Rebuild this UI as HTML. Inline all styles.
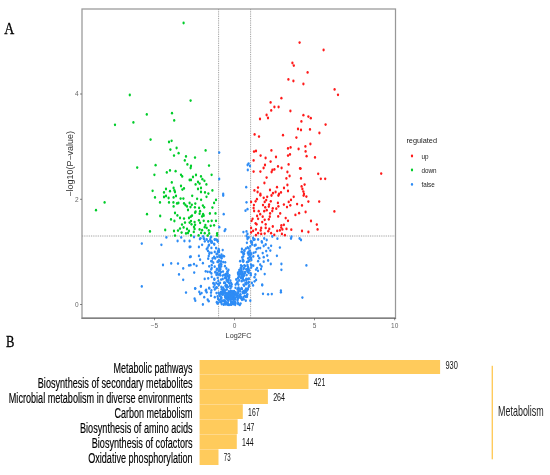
<!DOCTYPE html>
<html><head><meta charset="utf-8"><title>Figure</title>
<style>
html,body{margin:0;padding:0;background:#fff;}
svg{display:block;font-family:"Liberation Sans",sans-serif;}
.ser{font-family:"Liberation Serif",serif;}
</style></head><body>
<svg width="550" height="475" viewBox="0 0 550 475">
<rect width="550" height="475" fill="#fff"/>
<text class="ser" x="4.2" y="34.3" font-size="17.5" textLength="10" lengthAdjust="spacingAndGlyphs" fill="#000" stroke="#000" stroke-width="0.3">A</text>
<text class="ser" x="6" y="347.4" font-size="17.5" textLength="8.4" lengthAdjust="spacingAndGlyphs" fill="#000" stroke="#000" stroke-width="0.3">B</text>
<g stroke="#777" stroke-width="0.75" stroke-dasharray="0.9 0.9" fill="none">
<line x1="218.6" y1="9" x2="218.6" y2="318"/><line x1="250.6" y1="9" x2="250.6" y2="318"/><line x1="82" y1="236" x2="395.5" y2="236"/>
</g>
<g fill="#2e8cf5"><ellipse cx="219.2" cy="152.6" rx="1.15" ry="1.4"/><ellipse cx="219.2" cy="179.0" rx="1.15" ry="1.4"/><ellipse cx="223.2" cy="194.0" rx="1.15" ry="1.4"/><ellipse cx="248.6" cy="163.6" rx="1.15" ry="1.4"/><ellipse cx="247.6" cy="165.0" rx="1.15" ry="1.4"/><ellipse cx="250.0" cy="166.0" rx="1.15" ry="1.4"/><ellipse cx="247.8" cy="170.0" rx="1.15" ry="1.4"/><ellipse cx="246.2" cy="187.2" rx="1.15" ry="1.4"/><ellipse cx="166.4" cy="237.4" rx="1.15" ry="1.4"/><ellipse cx="181.2" cy="237.4" rx="1.15" ry="1.4"/><ellipse cx="177.6" cy="241.0" rx="1.15" ry="1.4"/><ellipse cx="184.4" cy="241.0" rx="1.15" ry="1.4"/><ellipse cx="189.6" cy="241.0" rx="1.15" ry="1.4"/><ellipse cx="141.8" cy="243.6" rx="1.15" ry="1.4"/><ellipse cx="161.4" cy="244.8" rx="1.15" ry="1.4"/><ellipse cx="189.6" cy="247.0" rx="1.15" ry="1.4"/><ellipse cx="190.0" cy="257.0" rx="1.15" ry="1.4"/><ellipse cx="163.0" cy="265.0" rx="1.15" ry="1.4"/><ellipse cx="171.2" cy="263.4" rx="1.15" ry="1.4"/><ellipse cx="178.0" cy="263.6" rx="1.15" ry="1.4"/><ellipse cx="189.0" cy="265.4" rx="1.15" ry="1.4"/><ellipse cx="183.2" cy="268.4" rx="1.15" ry="1.4"/><ellipse cx="179.0" cy="274.4" rx="1.15" ry="1.4"/><ellipse cx="183.2" cy="279.8" rx="1.15" ry="1.4"/><ellipse cx="141.8" cy="286.4" rx="1.15" ry="1.4"/><ellipse cx="223.2" cy="195.5" rx="1.15" ry="1.4"/><ellipse cx="223.7" cy="214.2" rx="1.15" ry="1.4"/><ellipse cx="219.3" cy="227.2" rx="1.15" ry="1.4"/><ellipse cx="225.4" cy="229.4" rx="1.15" ry="1.4"/><ellipse cx="224.6" cy="230.9" rx="1.15" ry="1.4"/><ellipse cx="243.4" cy="232.1" rx="1.15" ry="1.4"/><ellipse cx="194.0" cy="237.0" rx="1.15" ry="1.4"/><ellipse cx="203.1" cy="236.3" rx="1.15" ry="1.4"/><ellipse cx="211.2" cy="237.0" rx="1.15" ry="1.4"/><ellipse cx="199.9" cy="239.0" rx="1.15" ry="1.4"/><ellipse cx="203.7" cy="238.5" rx="1.15" ry="1.4"/><ellipse cx="206.7" cy="239.5" rx="1.15" ry="1.4"/><ellipse cx="210.2" cy="239.5" rx="1.15" ry="1.4"/><ellipse cx="214.8" cy="239.5" rx="1.15" ry="1.4"/><ellipse cx="217.8" cy="241.5" rx="1.15" ry="1.4"/><ellipse cx="211.7" cy="241.5" rx="1.15" ry="1.4"/><ellipse cx="208.2" cy="241.5" rx="1.15" ry="1.4"/><ellipse cx="246.5" cy="202.3" rx="1.15" ry="1.4"/><ellipse cx="247.5" cy="209.2" rx="1.15" ry="1.4"/><ellipse cx="245.5" cy="210.7" rx="1.15" ry="1.4"/><ellipse cx="246.5" cy="231.4" rx="1.15" ry="1.4"/><ellipse cx="247.5" cy="233.9" rx="1.15" ry="1.4"/><ellipse cx="246.5" cy="236.0" rx="1.15" ry="1.4"/><ellipse cx="272.3" cy="236.5" rx="1.15" ry="1.4"/><ellipse cx="291.5" cy="236.7" rx="1.15" ry="1.4"/><ellipse cx="291.0" cy="238.5" rx="1.15" ry="1.4"/><ellipse cx="277.4" cy="238.7" rx="1.15" ry="1.4"/><ellipse cx="247.5" cy="239.0" rx="1.15" ry="1.4"/><ellipse cx="253.1" cy="238.0" rx="1.15" ry="1.4"/><ellipse cx="254.6" cy="239.5" rx="1.15" ry="1.4"/><ellipse cx="258.1" cy="239.5" rx="1.15" ry="1.4"/><ellipse cx="264.2" cy="238.5" rx="1.15" ry="1.4"/><ellipse cx="266.7" cy="240.0" rx="1.15" ry="1.4"/><ellipse cx="261.7" cy="241.5" rx="1.15" ry="1.4"/><ellipse cx="251.1" cy="242.0" rx="1.15" ry="1.4"/><ellipse cx="299.6" cy="238.5" rx="1.15" ry="1.4"/><ellipse cx="190.5" cy="246.8" rx="1.15" ry="1.4"/><ellipse cx="198.9" cy="247.0" rx="1.15" ry="1.4"/><ellipse cx="202.1" cy="244.8" rx="1.15" ry="1.4"/><ellipse cx="208.7" cy="245.5" rx="1.15" ry="1.4"/><ellipse cx="214.3" cy="244.5" rx="1.15" ry="1.4"/><ellipse cx="206.7" cy="249.1" rx="1.15" ry="1.4"/><ellipse cx="190.8" cy="256.7" rx="1.15" ry="1.4"/><ellipse cx="198.9" cy="255.9" rx="1.15" ry="1.4"/><ellipse cx="200.1" cy="259.7" rx="1.15" ry="1.4"/><ellipse cx="209.7" cy="252.6" rx="1.15" ry="1.4"/><ellipse cx="208.7" cy="256.1" rx="1.15" ry="1.4"/><ellipse cx="208.2" cy="258.7" rx="1.15" ry="1.4"/><ellipse cx="194.0" cy="264.2" rx="1.15" ry="1.4"/><ellipse cx="196.6" cy="265.8" rx="1.15" ry="1.4"/><ellipse cx="202.9" cy="263.2" rx="1.15" ry="1.4"/><ellipse cx="190.5" cy="265.2" rx="1.15" ry="1.4"/><ellipse cx="194.2" cy="272.6" rx="1.15" ry="1.4"/><ellipse cx="205.7" cy="271.3" rx="1.15" ry="1.4"/><ellipse cx="207.7" cy="271.8" rx="1.15" ry="1.4"/><ellipse cx="209.2" cy="266.3" rx="1.15" ry="1.4"/><ellipse cx="211.2" cy="269.3" rx="1.15" ry="1.4"/><ellipse cx="211.7" cy="265.2" rx="1.15" ry="1.4"/><ellipse cx="211.2" cy="261.2" rx="1.15" ry="1.4"/><ellipse cx="204.7" cy="278.9" rx="1.15" ry="1.4"/><ellipse cx="208.2" cy="278.4" rx="1.15" ry="1.4"/><ellipse cx="211.7" cy="276.9" rx="1.15" ry="1.4"/><ellipse cx="214.3" cy="278.9" rx="1.15" ry="1.4"/><ellipse cx="213.5" cy="283.4" rx="1.15" ry="1.4"/><ellipse cx="200.9" cy="286.5" rx="1.15" ry="1.4"/><ellipse cx="195.1" cy="288.5" rx="1.15" ry="1.4"/><ellipse cx="209.2" cy="288.0" rx="1.15" ry="1.4"/><ellipse cx="206.2" cy="290.0" rx="1.15" ry="1.4"/><ellipse cx="216.3" cy="287.5" rx="1.15" ry="1.4"/><ellipse cx="279.9" cy="247.6" rx="1.15" ry="1.4"/><ellipse cx="271.1" cy="245.8" rx="1.15" ry="1.4"/><ellipse cx="268.5" cy="248.1" rx="1.15" ry="1.4"/><ellipse cx="270.3" cy="250.6" rx="1.15" ry="1.4"/><ellipse cx="266.2" cy="251.1" rx="1.15" ry="1.4"/><ellipse cx="262.7" cy="253.1" rx="1.15" ry="1.4"/><ellipse cx="267.2" cy="255.6" rx="1.15" ry="1.4"/><ellipse cx="276.9" cy="255.8" rx="1.15" ry="1.4"/><ellipse cx="263.7" cy="257.2" rx="1.15" ry="1.4"/><ellipse cx="258.1" cy="255.9" rx="1.15" ry="1.4"/><ellipse cx="268.1" cy="260.5" rx="1.15" ry="1.4"/><ellipse cx="263.7" cy="261.7" rx="1.15" ry="1.4"/><ellipse cx="270.8" cy="264.0" rx="1.15" ry="1.4"/><ellipse cx="281.4" cy="264.0" rx="1.15" ry="1.4"/><ellipse cx="281.4" cy="269.8" rx="1.15" ry="1.4"/><ellipse cx="261.0" cy="269.1" rx="1.15" ry="1.4"/><ellipse cx="257.1" cy="268.1" rx="1.15" ry="1.4"/><ellipse cx="264.7" cy="274.1" rx="1.15" ry="1.4"/><ellipse cx="255.4" cy="274.5" rx="1.15" ry="1.4"/><ellipse cx="256.1" cy="279.9" rx="1.15" ry="1.4"/><ellipse cx="262.2" cy="285.0" rx="1.15" ry="1.4"/><ellipse cx="247.8" cy="289.0" rx="1.15" ry="1.4"/><ellipse cx="280.9" cy="290.7" rx="1.15" ry="1.4"/><ellipse cx="260.2" cy="264.7" rx="1.15" ry="1.4"/><ellipse cx="258.1" cy="261.2" rx="1.15" ry="1.4"/><ellipse cx="255.6" cy="252.1" rx="1.15" ry="1.4"/><ellipse cx="256.6" cy="249.1" rx="1.15" ry="1.4"/><ellipse cx="260.2" cy="248.1" rx="1.15" ry="1.4"/><ellipse cx="263.7" cy="246.0" rx="1.15" ry="1.4"/><ellipse cx="265.7" cy="244.5" rx="1.15" ry="1.4"/><ellipse cx="252.1" cy="244.5" rx="1.15" ry="1.4"/><ellipse cx="254.6" cy="245.5" rx="1.15" ry="1.4"/><ellipse cx="213.5" cy="283.2" rx="1.15" ry="1.4"/><ellipse cx="200.9" cy="286.1" rx="1.15" ry="1.4"/><ellipse cx="195.3" cy="288.6" rx="1.15" ry="1.4"/><ellipse cx="209.2" cy="288.3" rx="1.15" ry="1.4"/><ellipse cx="199.3" cy="291.9" rx="1.15" ry="1.4"/><ellipse cx="201.6" cy="293.1" rx="1.15" ry="1.4"/><ellipse cx="200.1" cy="294.1" rx="1.15" ry="1.4"/><ellipse cx="205.7" cy="290.6" rx="1.15" ry="1.4"/><ellipse cx="206.7" cy="292.3" rx="1.15" ry="1.4"/><ellipse cx="211.0" cy="292.6" rx="1.15" ry="1.4"/><ellipse cx="211.0" cy="295.7" rx="1.15" ry="1.4"/><ellipse cx="204.2" cy="297.2" rx="1.15" ry="1.4"/><ellipse cx="194.6" cy="298.7" rx="1.15" ry="1.4"/><ellipse cx="195.3" cy="300.7" rx="1.15" ry="1.4"/><ellipse cx="207.7" cy="299.7" rx="1.15" ry="1.4"/><ellipse cx="208.7" cy="301.2" rx="1.15" ry="1.4"/><ellipse cx="214.8" cy="297.2" rx="1.15" ry="1.4"/><ellipse cx="202.9" cy="304.5" rx="1.15" ry="1.4"/><ellipse cx="216.3" cy="288.1" rx="1.15" ry="1.4"/><ellipse cx="216.5" cy="293.1" rx="1.15" ry="1.4"/><ellipse cx="216.8" cy="302.2" rx="1.15" ry="1.4"/><ellipse cx="262.2" cy="285.0" rx="1.15" ry="1.4"/><ellipse cx="263.0" cy="293.8" rx="1.15" ry="1.4"/><ellipse cx="268.1" cy="294.3" rx="1.15" ry="1.4"/><ellipse cx="271.8" cy="294.1" rx="1.15" ry="1.4"/><ellipse cx="280.9" cy="292.3" rx="1.15" ry="1.4"/><ellipse cx="247.8" cy="288.9" rx="1.15" ry="1.4"/><ellipse cx="247.0" cy="296.7" rx="1.15" ry="1.4"/><ellipse cx="250.3" cy="300.7" rx="1.15" ry="1.4"/><ellipse cx="245.8" cy="300.7" rx="1.15" ry="1.4"/><ellipse cx="254.6" cy="281.3" rx="1.15" ry="1.4"/><ellipse cx="246.5" cy="282.5" rx="1.15" ry="1.4"/><ellipse cx="245.5" cy="291.1" rx="1.15" ry="1.4"/><ellipse cx="245.5" cy="284.0" rx="1.15" ry="1.4"/><ellipse cx="301.0" cy="240.0" rx="1.15" ry="1.4"/><ellipse cx="306.4" cy="265.4" rx="1.15" ry="1.4"/><ellipse cx="186.0" cy="292.6" rx="1.15" ry="1.4"/><ellipse cx="302.4" cy="297.6" rx="1.15" ry="1.4"/><ellipse cx="239.9" cy="295.5" rx="1.15" ry="1.4"/><ellipse cx="243.5" cy="292.0" rx="1.15" ry="1.4"/><ellipse cx="229.3" cy="298.5" rx="1.15" ry="1.4"/><ellipse cx="233.7" cy="298.1" rx="1.15" ry="1.4"/><ellipse cx="228.9" cy="291.5" rx="1.15" ry="1.4"/><ellipse cx="233.7" cy="292.3" rx="1.15" ry="1.4"/><ellipse cx="233.8" cy="296.9" rx="1.15" ry="1.4"/><ellipse cx="227.8" cy="294.1" rx="1.15" ry="1.4"/><ellipse cx="242.0" cy="299.8" rx="1.15" ry="1.4"/><ellipse cx="227.8" cy="296.6" rx="1.15" ry="1.4"/><ellipse cx="237.4" cy="295.1" rx="1.15" ry="1.4"/><ellipse cx="238.2" cy="293.0" rx="1.15" ry="1.4"/><ellipse cx="235.1" cy="302.4" rx="1.15" ry="1.4"/><ellipse cx="220.3" cy="293.5" rx="1.15" ry="1.4"/><ellipse cx="225.3" cy="296.2" rx="1.15" ry="1.4"/><ellipse cx="234.2" cy="298.7" rx="1.15" ry="1.4"/><ellipse cx="233.4" cy="293.9" rx="1.15" ry="1.4"/><ellipse cx="224.1" cy="300.5" rx="1.15" ry="1.4"/><ellipse cx="234.6" cy="299.2" rx="1.15" ry="1.4"/><ellipse cx="226.6" cy="297.3" rx="1.15" ry="1.4"/><ellipse cx="221.8" cy="294.4" rx="1.15" ry="1.4"/><ellipse cx="225.4" cy="303.3" rx="1.15" ry="1.4"/><ellipse cx="225.0" cy="301.2" rx="1.15" ry="1.4"/><ellipse cx="231.9" cy="296.9" rx="1.15" ry="1.4"/><ellipse cx="226.2" cy="297.8" rx="1.15" ry="1.4"/><ellipse cx="224.3" cy="291.5" rx="1.15" ry="1.4"/><ellipse cx="218.0" cy="299.0" rx="1.15" ry="1.4"/><ellipse cx="225.0" cy="303.3" rx="1.15" ry="1.4"/><ellipse cx="243.8" cy="299.3" rx="1.15" ry="1.4"/><ellipse cx="233.6" cy="304.2" rx="1.15" ry="1.4"/><ellipse cx="229.8" cy="297.6" rx="1.15" ry="1.4"/><ellipse cx="228.2" cy="300.8" rx="1.15" ry="1.4"/><ellipse cx="231.3" cy="295.0" rx="1.15" ry="1.4"/><ellipse cx="230.8" cy="296.4" rx="1.15" ry="1.4"/><ellipse cx="229.8" cy="297.5" rx="1.15" ry="1.4"/><ellipse cx="234.6" cy="293.4" rx="1.15" ry="1.4"/><ellipse cx="232.5" cy="301.8" rx="1.15" ry="1.4"/><ellipse cx="232.3" cy="292.8" rx="1.15" ry="1.4"/><ellipse cx="238.1" cy="303.2" rx="1.15" ry="1.4"/><ellipse cx="220.8" cy="292.1" rx="1.15" ry="1.4"/><ellipse cx="233.1" cy="303.4" rx="1.15" ry="1.4"/><ellipse cx="234.6" cy="302.5" rx="1.15" ry="1.4"/><ellipse cx="226.1" cy="296.8" rx="1.15" ry="1.4"/><ellipse cx="232.9" cy="293.5" rx="1.15" ry="1.4"/><ellipse cx="238.1" cy="297.8" rx="1.15" ry="1.4"/><ellipse cx="231.1" cy="299.2" rx="1.15" ry="1.4"/><ellipse cx="232.5" cy="296.9" rx="1.15" ry="1.4"/><ellipse cx="222.1" cy="300.7" rx="1.15" ry="1.4"/><ellipse cx="221.3" cy="298.2" rx="1.15" ry="1.4"/><ellipse cx="222.6" cy="291.8" rx="1.15" ry="1.4"/><ellipse cx="232.8" cy="303.6" rx="1.15" ry="1.4"/><ellipse cx="228.3" cy="296.5" rx="1.15" ry="1.4"/><ellipse cx="233.5" cy="299.9" rx="1.15" ry="1.4"/><ellipse cx="238.2" cy="291.9" rx="1.15" ry="1.4"/><ellipse cx="234.8" cy="293.3" rx="1.15" ry="1.4"/><ellipse cx="232.1" cy="295.8" rx="1.15" ry="1.4"/><ellipse cx="232.2" cy="293.1" rx="1.15" ry="1.4"/><ellipse cx="230.8" cy="292.4" rx="1.15" ry="1.4"/><ellipse cx="231.3" cy="303.2" rx="1.15" ry="1.4"/><ellipse cx="235.1" cy="299.6" rx="1.15" ry="1.4"/><ellipse cx="237.6" cy="295.9" rx="1.15" ry="1.4"/><ellipse cx="244.8" cy="296.1" rx="1.15" ry="1.4"/><ellipse cx="239.8" cy="304.9" rx="1.15" ry="1.4"/><ellipse cx="227.7" cy="297.5" rx="1.15" ry="1.4"/><ellipse cx="232.6" cy="292.4" rx="1.15" ry="1.4"/><ellipse cx="230.3" cy="295.8" rx="1.15" ry="1.4"/><ellipse cx="243.5" cy="291.3" rx="1.15" ry="1.4"/><ellipse cx="228.6" cy="293.1" rx="1.15" ry="1.4"/><ellipse cx="242.2" cy="298.6" rx="1.15" ry="1.4"/><ellipse cx="230.9" cy="304.7" rx="1.15" ry="1.4"/><ellipse cx="227.8" cy="303.1" rx="1.15" ry="1.4"/><ellipse cx="225.0" cy="296.1" rx="1.15" ry="1.4"/><ellipse cx="233.8" cy="293.3" rx="1.15" ry="1.4"/><ellipse cx="220.1" cy="301.9" rx="1.15" ry="1.4"/><ellipse cx="234.8" cy="295.6" rx="1.15" ry="1.4"/><ellipse cx="235.3" cy="302.9" rx="1.15" ry="1.4"/><ellipse cx="223.3" cy="294.2" rx="1.15" ry="1.4"/><ellipse cx="231.3" cy="291.4" rx="1.15" ry="1.4"/><ellipse cx="230.9" cy="291.4" rx="1.15" ry="1.4"/><ellipse cx="237.5" cy="300.7" rx="1.15" ry="1.4"/><ellipse cx="235.2" cy="304.8" rx="1.15" ry="1.4"/><ellipse cx="225.8" cy="304.4" rx="1.15" ry="1.4"/><ellipse cx="237.1" cy="294.2" rx="1.15" ry="1.4"/><ellipse cx="235.9" cy="293.8" rx="1.15" ry="1.4"/><ellipse cx="240.6" cy="303.6" rx="1.15" ry="1.4"/><ellipse cx="218.2" cy="302.8" rx="1.15" ry="1.4"/><ellipse cx="231.9" cy="302.2" rx="1.15" ry="1.4"/><ellipse cx="221.1" cy="292.2" rx="1.15" ry="1.4"/><ellipse cx="225.3" cy="301.5" rx="1.15" ry="1.4"/><ellipse cx="231.1" cy="302.0" rx="1.15" ry="1.4"/><ellipse cx="239.8" cy="295.7" rx="1.15" ry="1.4"/><ellipse cx="245.7" cy="296.6" rx="1.15" ry="1.4"/><ellipse cx="227.1" cy="293.4" rx="1.15" ry="1.4"/><ellipse cx="244.2" cy="292.8" rx="1.15" ry="1.4"/><ellipse cx="244.5" cy="293.0" rx="1.15" ry="1.4"/><ellipse cx="227.1" cy="295.9" rx="1.15" ry="1.4"/><ellipse cx="230.8" cy="291.2" rx="1.15" ry="1.4"/><ellipse cx="223.7" cy="304.6" rx="1.15" ry="1.4"/><ellipse cx="221.7" cy="304.1" rx="1.15" ry="1.4"/><ellipse cx="243.5" cy="297.1" rx="1.15" ry="1.4"/><ellipse cx="219.3" cy="294.0" rx="1.15" ry="1.4"/><ellipse cx="230.2" cy="294.5" rx="1.15" ry="1.4"/><ellipse cx="237.6" cy="299.2" rx="1.15" ry="1.4"/><ellipse cx="227.7" cy="294.6" rx="1.15" ry="1.4"/><ellipse cx="231.8" cy="303.7" rx="1.15" ry="1.4"/><ellipse cx="219.9" cy="296.0" rx="1.15" ry="1.4"/><ellipse cx="232.5" cy="303.7" rx="1.15" ry="1.4"/><ellipse cx="241.1" cy="296.9" rx="1.15" ry="1.4"/><ellipse cx="226.1" cy="298.4" rx="1.15" ry="1.4"/><ellipse cx="241.0" cy="298.3" rx="1.15" ry="1.4"/><ellipse cx="233.3" cy="293.6" rx="1.15" ry="1.4"/><ellipse cx="234.1" cy="291.1" rx="1.15" ry="1.4"/><ellipse cx="226.2" cy="297.6" rx="1.15" ry="1.4"/><ellipse cx="223.5" cy="301.2" rx="1.15" ry="1.4"/><ellipse cx="228.6" cy="298.3" rx="1.15" ry="1.4"/><ellipse cx="232.2" cy="298.8" rx="1.15" ry="1.4"/><ellipse cx="227.1" cy="298.8" rx="1.15" ry="1.4"/><ellipse cx="229.3" cy="294.5" rx="1.15" ry="1.4"/><ellipse cx="232.5" cy="298.9" rx="1.15" ry="1.4"/><ellipse cx="220.5" cy="299.6" rx="1.15" ry="1.4"/><ellipse cx="230.5" cy="300.7" rx="1.15" ry="1.4"/><ellipse cx="221.3" cy="297.3" rx="1.15" ry="1.4"/><ellipse cx="227.6" cy="304.2" rx="1.15" ry="1.4"/><ellipse cx="225.8" cy="292.9" rx="1.15" ry="1.4"/><ellipse cx="228.7" cy="292.7" rx="1.15" ry="1.4"/><ellipse cx="233.4" cy="294.4" rx="1.15" ry="1.4"/><ellipse cx="224.1" cy="292.0" rx="1.15" ry="1.4"/><ellipse cx="217.4" cy="303.6" rx="1.15" ry="1.4"/><ellipse cx="229.2" cy="293.2" rx="1.15" ry="1.4"/><ellipse cx="218.5" cy="293.0" rx="1.15" ry="1.4"/><ellipse cx="235.5" cy="303.4" rx="1.15" ry="1.4"/><ellipse cx="228.3" cy="304.3" rx="1.15" ry="1.4"/><ellipse cx="232.2" cy="302.7" rx="1.15" ry="1.4"/><ellipse cx="221.7" cy="293.3" rx="1.15" ry="1.4"/><ellipse cx="236.6" cy="295.7" rx="1.15" ry="1.4"/><ellipse cx="225.8" cy="293.7" rx="1.15" ry="1.4"/><ellipse cx="246.2" cy="291.3" rx="1.15" ry="1.4"/><ellipse cx="229.7" cy="298.8" rx="1.15" ry="1.4"/><ellipse cx="232.6" cy="295.6" rx="1.15" ry="1.4"/><ellipse cx="227.8" cy="299.7" rx="1.15" ry="1.4"/><ellipse cx="229.1" cy="304.8" rx="1.15" ry="1.4"/><ellipse cx="234.3" cy="302.0" rx="1.15" ry="1.4"/><ellipse cx="231.3" cy="294.7" rx="1.15" ry="1.4"/><ellipse cx="233.6" cy="291.6" rx="1.15" ry="1.4"/><ellipse cx="224.7" cy="292.8" rx="1.15" ry="1.4"/><ellipse cx="246.1" cy="296.9" rx="1.15" ry="1.4"/><ellipse cx="222.8" cy="294.6" rx="1.15" ry="1.4"/><ellipse cx="243.0" cy="293.1" rx="1.15" ry="1.4"/><ellipse cx="225.3" cy="300.8" rx="1.15" ry="1.4"/><ellipse cx="245.9" cy="292.3" rx="1.15" ry="1.4"/><ellipse cx="236.6" cy="297.0" rx="1.15" ry="1.4"/><ellipse cx="244.8" cy="292.0" rx="1.15" ry="1.4"/><ellipse cx="225.8" cy="302.2" rx="1.15" ry="1.4"/><ellipse cx="234.4" cy="292.2" rx="1.15" ry="1.4"/><ellipse cx="227.6" cy="303.1" rx="1.15" ry="1.4"/><ellipse cx="225.4" cy="297.4" rx="1.15" ry="1.4"/><ellipse cx="238.2" cy="304.0" rx="1.15" ry="1.4"/><ellipse cx="240.0" cy="294.8" rx="1.15" ry="1.4"/><ellipse cx="240.5" cy="294.3" rx="1.15" ry="1.4"/><ellipse cx="233.8" cy="292.5" rx="1.15" ry="1.4"/><ellipse cx="234.7" cy="293.8" rx="1.15" ry="1.4"/><ellipse cx="226.6" cy="295.4" rx="1.15" ry="1.4"/><ellipse cx="247.0" cy="295.1" rx="1.15" ry="1.4"/><ellipse cx="235.1" cy="298.0" rx="1.15" ry="1.4"/><ellipse cx="240.2" cy="291.3" rx="1.15" ry="1.4"/><ellipse cx="247.4" cy="294.5" rx="1.15" ry="1.4"/><ellipse cx="232.7" cy="298.7" rx="1.15" ry="1.4"/><ellipse cx="235.7" cy="292.5" rx="1.15" ry="1.4"/><ellipse cx="221.3" cy="302.5" rx="1.15" ry="1.4"/><ellipse cx="234.1" cy="302.7" rx="1.15" ry="1.4"/><ellipse cx="217.6" cy="296.5" rx="1.15" ry="1.4"/><ellipse cx="228.8" cy="304.8" rx="1.15" ry="1.4"/><ellipse cx="239.1" cy="295.8" rx="1.15" ry="1.4"/><ellipse cx="219.0" cy="299.9" rx="1.15" ry="1.4"/><ellipse cx="229.9" cy="296.7" rx="1.15" ry="1.4"/><ellipse cx="234.8" cy="292.8" rx="1.15" ry="1.4"/><ellipse cx="231.8" cy="292.0" rx="1.15" ry="1.4"/><ellipse cx="224.9" cy="293.3" rx="1.15" ry="1.4"/><ellipse cx="242.7" cy="292.2" rx="1.15" ry="1.4"/><ellipse cx="232.4" cy="294.9" rx="1.15" ry="1.4"/><ellipse cx="239.2" cy="297.4" rx="1.15" ry="1.4"/><ellipse cx="225.1" cy="293.2" rx="1.15" ry="1.4"/><ellipse cx="231.5" cy="304.5" rx="1.15" ry="1.4"/><ellipse cx="223.7" cy="304.6" rx="1.15" ry="1.4"/><ellipse cx="227.7" cy="304.5" rx="1.15" ry="1.4"/><ellipse cx="231.7" cy="295.3" rx="1.15" ry="1.4"/><ellipse cx="232.1" cy="296.3" rx="1.15" ry="1.4"/><ellipse cx="225.4" cy="297.6" rx="1.15" ry="1.4"/><ellipse cx="231.3" cy="298.1" rx="1.15" ry="1.4"/><ellipse cx="231.9" cy="291.1" rx="1.15" ry="1.4"/><ellipse cx="226.4" cy="277.8" rx="1.15" ry="1.4"/><ellipse cx="224.1" cy="282.9" rx="1.15" ry="1.4"/><ellipse cx="243.5" cy="284.8" rx="1.15" ry="1.4"/><ellipse cx="246.1" cy="279.9" rx="1.15" ry="1.4"/><ellipse cx="246.0" cy="288.6" rx="1.15" ry="1.4"/><ellipse cx="221.0" cy="272.1" rx="1.15" ry="1.4"/><ellipse cx="231.7" cy="284.3" rx="1.15" ry="1.4"/><ellipse cx="225.2" cy="283.0" rx="1.15" ry="1.4"/><ellipse cx="230.4" cy="280.7" rx="1.15" ry="1.4"/><ellipse cx="231.5" cy="286.5" rx="1.15" ry="1.4"/><ellipse cx="247.3" cy="270.6" rx="1.15" ry="1.4"/><ellipse cx="240.7" cy="274.1" rx="1.15" ry="1.4"/><ellipse cx="230.0" cy="285.9" rx="1.15" ry="1.4"/><ellipse cx="238.2" cy="274.6" rx="1.15" ry="1.4"/><ellipse cx="222.8" cy="290.4" rx="1.15" ry="1.4"/><ellipse cx="244.3" cy="275.4" rx="1.15" ry="1.4"/><ellipse cx="211.4" cy="273.4" rx="1.15" ry="1.4"/><ellipse cx="247.7" cy="269.4" rx="1.15" ry="1.4"/><ellipse cx="229.2" cy="277.5" rx="1.15" ry="1.4"/><ellipse cx="253.1" cy="285.4" rx="1.15" ry="1.4"/><ellipse cx="226.7" cy="280.2" rx="1.15" ry="1.4"/><ellipse cx="237.8" cy="288.7" rx="1.15" ry="1.4"/><ellipse cx="226.2" cy="277.9" rx="1.15" ry="1.4"/><ellipse cx="247.9" cy="271.7" rx="1.15" ry="1.4"/><ellipse cx="214.8" cy="289.4" rx="1.15" ry="1.4"/><ellipse cx="242.2" cy="275.4" rx="1.15" ry="1.4"/><ellipse cx="237.5" cy="289.4" rx="1.15" ry="1.4"/><ellipse cx="241.2" cy="270.1" rx="1.15" ry="1.4"/><ellipse cx="242.1" cy="275.9" rx="1.15" ry="1.4"/><ellipse cx="256.0" cy="269.6" rx="1.15" ry="1.4"/><ellipse cx="214.7" cy="284.8" rx="1.15" ry="1.4"/><ellipse cx="225.0" cy="278.0" rx="1.15" ry="1.4"/><ellipse cx="242.0" cy="271.8" rx="1.15" ry="1.4"/><ellipse cx="239.0" cy="274.6" rx="1.15" ry="1.4"/><ellipse cx="223.0" cy="271.6" rx="1.15" ry="1.4"/><ellipse cx="227.9" cy="286.9" rx="1.15" ry="1.4"/><ellipse cx="227.6" cy="281.1" rx="1.15" ry="1.4"/><ellipse cx="218.6" cy="271.0" rx="1.15" ry="1.4"/><ellipse cx="241.5" cy="288.2" rx="1.15" ry="1.4"/><ellipse cx="242.2" cy="277.3" rx="1.15" ry="1.4"/><ellipse cx="218.5" cy="284.1" rx="1.15" ry="1.4"/><ellipse cx="241.6" cy="277.5" rx="1.15" ry="1.4"/><ellipse cx="247.5" cy="271.8" rx="1.15" ry="1.4"/><ellipse cx="242.8" cy="279.4" rx="1.15" ry="1.4"/><ellipse cx="235.5" cy="287.8" rx="1.15" ry="1.4"/><ellipse cx="215.3" cy="272.4" rx="1.15" ry="1.4"/><ellipse cx="244.1" cy="285.8" rx="1.15" ry="1.4"/><ellipse cx="217.0" cy="269.0" rx="1.15" ry="1.4"/><ellipse cx="242.7" cy="271.8" rx="1.15" ry="1.4"/><ellipse cx="225.4" cy="285.8" rx="1.15" ry="1.4"/><ellipse cx="226.5" cy="273.9" rx="1.15" ry="1.4"/><ellipse cx="247.3" cy="279.1" rx="1.15" ry="1.4"/><ellipse cx="241.2" cy="274.4" rx="1.15" ry="1.4"/><ellipse cx="247.3" cy="269.5" rx="1.15" ry="1.4"/><ellipse cx="238.0" cy="278.3" rx="1.15" ry="1.4"/><ellipse cx="242.6" cy="276.4" rx="1.15" ry="1.4"/><ellipse cx="216.9" cy="287.6" rx="1.15" ry="1.4"/><ellipse cx="227.3" cy="275.9" rx="1.15" ry="1.4"/><ellipse cx="245.9" cy="289.9" rx="1.15" ry="1.4"/><ellipse cx="214.4" cy="279.7" rx="1.15" ry="1.4"/><ellipse cx="220.0" cy="273.7" rx="1.15" ry="1.4"/><ellipse cx="248.8" cy="273.1" rx="1.15" ry="1.4"/><ellipse cx="239.9" cy="289.5" rx="1.15" ry="1.4"/><ellipse cx="244.0" cy="280.5" rx="1.15" ry="1.4"/><ellipse cx="228.4" cy="276.3" rx="1.15" ry="1.4"/><ellipse cx="258.0" cy="270.8" rx="1.15" ry="1.4"/><ellipse cx="243.0" cy="273.6" rx="1.15" ry="1.4"/><ellipse cx="227.1" cy="286.7" rx="1.15" ry="1.4"/><ellipse cx="244.9" cy="273.2" rx="1.15" ry="1.4"/><ellipse cx="220.1" cy="282.9" rx="1.15" ry="1.4"/><ellipse cx="219.3" cy="270.4" rx="1.15" ry="1.4"/><ellipse cx="238.9" cy="288.8" rx="1.15" ry="1.4"/><ellipse cx="249.1" cy="285.4" rx="1.15" ry="1.4"/><ellipse cx="229.4" cy="275.5" rx="1.15" ry="1.4"/><ellipse cx="247.3" cy="290.0" rx="1.15" ry="1.4"/><ellipse cx="213.7" cy="286.9" rx="1.15" ry="1.4"/><ellipse cx="226.0" cy="285.2" rx="1.15" ry="1.4"/><ellipse cx="243.5" cy="276.0" rx="1.15" ry="1.4"/><ellipse cx="238.6" cy="272.5" rx="1.15" ry="1.4"/><ellipse cx="241.7" cy="281.2" rx="1.15" ry="1.4"/><ellipse cx="224.4" cy="282.7" rx="1.15" ry="1.4"/><ellipse cx="235.6" cy="284.6" rx="1.15" ry="1.4"/><ellipse cx="225.8" cy="274.2" rx="1.15" ry="1.4"/><ellipse cx="246.7" cy="275.1" rx="1.15" ry="1.4"/><ellipse cx="217.4" cy="274.4" rx="1.15" ry="1.4"/><ellipse cx="217.1" cy="273.1" rx="1.15" ry="1.4"/><ellipse cx="248.8" cy="286.8" rx="1.15" ry="1.4"/><ellipse cx="240.1" cy="271.3" rx="1.15" ry="1.4"/><ellipse cx="230.4" cy="288.3" rx="1.15" ry="1.4"/><ellipse cx="211.4" cy="290.4" rx="1.15" ry="1.4"/><ellipse cx="246.2" cy="278.9" rx="1.15" ry="1.4"/><ellipse cx="243.4" cy="269.1" rx="1.15" ry="1.4"/><ellipse cx="218.9" cy="274.6" rx="1.15" ry="1.4"/><ellipse cx="241.0" cy="278.0" rx="1.15" ry="1.4"/><ellipse cx="218.3" cy="281.1" rx="1.15" ry="1.4"/><ellipse cx="229.5" cy="283.6" rx="1.15" ry="1.4"/><ellipse cx="243.0" cy="278.0" rx="1.15" ry="1.4"/><ellipse cx="239.2" cy="270.1" rx="1.15" ry="1.4"/><ellipse cx="236.8" cy="283.2" rx="1.15" ry="1.4"/><ellipse cx="219.6" cy="269.1" rx="1.15" ry="1.4"/><ellipse cx="228.7" cy="279.1" rx="1.15" ry="1.4"/><ellipse cx="245.0" cy="272.1" rx="1.15" ry="1.4"/><ellipse cx="240.9" cy="272.2" rx="1.15" ry="1.4"/><ellipse cx="249.3" cy="270.5" rx="1.15" ry="1.4"/><ellipse cx="215.5" cy="271.8" rx="1.15" ry="1.4"/><ellipse cx="221.1" cy="279.6" rx="1.15" ry="1.4"/><ellipse cx="218.1" cy="284.1" rx="1.15" ry="1.4"/><ellipse cx="228.8" cy="282.7" rx="1.15" ry="1.4"/><ellipse cx="239.2" cy="280.4" rx="1.15" ry="1.4"/><ellipse cx="225.1" cy="290.4" rx="1.15" ry="1.4"/><ellipse cx="226.5" cy="287.4" rx="1.15" ry="1.4"/><ellipse cx="238.6" cy="287.7" rx="1.15" ry="1.4"/><ellipse cx="238.6" cy="277.1" rx="1.15" ry="1.4"/><ellipse cx="244.7" cy="290.7" rx="1.15" ry="1.4"/><ellipse cx="237.9" cy="273.0" rx="1.15" ry="1.4"/><ellipse cx="242.1" cy="276.9" rx="1.15" ry="1.4"/><ellipse cx="216.3" cy="283.0" rx="1.15" ry="1.4"/><ellipse cx="225.5" cy="275.9" rx="1.15" ry="1.4"/><ellipse cx="210.1" cy="272.0" rx="1.15" ry="1.4"/><ellipse cx="218.9" cy="285.1" rx="1.15" ry="1.4"/><ellipse cx="221.7" cy="289.2" rx="1.15" ry="1.4"/><ellipse cx="240.0" cy="273.9" rx="1.15" ry="1.4"/><ellipse cx="242.0" cy="288.9" rx="1.15" ry="1.4"/><ellipse cx="223.8" cy="289.2" rx="1.15" ry="1.4"/><ellipse cx="250.7" cy="273.4" rx="1.15" ry="1.4"/><ellipse cx="246.6" cy="284.0" rx="1.15" ry="1.4"/><ellipse cx="251.9" cy="283.0" rx="1.15" ry="1.4"/><ellipse cx="222.8" cy="279.0" rx="1.15" ry="1.4"/><ellipse cx="254.5" cy="277.2" rx="1.15" ry="1.4"/><ellipse cx="237.6" cy="281.7" rx="1.15" ry="1.4"/><ellipse cx="238.5" cy="290.1" rx="1.15" ry="1.4"/><ellipse cx="245.5" cy="283.1" rx="1.15" ry="1.4"/><ellipse cx="248.3" cy="282.8" rx="1.15" ry="1.4"/><ellipse cx="227.3" cy="271.9" rx="1.15" ry="1.4"/><ellipse cx="242.5" cy="275.7" rx="1.15" ry="1.4"/><ellipse cx="222.7" cy="275.6" rx="1.15" ry="1.4"/><ellipse cx="226.9" cy="289.6" rx="1.15" ry="1.4"/><ellipse cx="219.5" cy="270.4" rx="1.15" ry="1.4"/><ellipse cx="246.2" cy="269.3" rx="1.15" ry="1.4"/><ellipse cx="248.9" cy="282.2" rx="1.15" ry="1.4"/><ellipse cx="217.7" cy="277.9" rx="1.15" ry="1.4"/><ellipse cx="227.6" cy="271.3" rx="1.15" ry="1.4"/><ellipse cx="231.1" cy="283.1" rx="1.15" ry="1.4"/><ellipse cx="237.5" cy="282.8" rx="1.15" ry="1.4"/><ellipse cx="248.4" cy="279.2" rx="1.15" ry="1.4"/><ellipse cx="216.4" cy="274.8" rx="1.15" ry="1.4"/><ellipse cx="224.1" cy="274.8" rx="1.15" ry="1.4"/><ellipse cx="249.0" cy="278.6" rx="1.15" ry="1.4"/><ellipse cx="228.1" cy="280.2" rx="1.15" ry="1.4"/><ellipse cx="226.9" cy="285.4" rx="1.15" ry="1.4"/><ellipse cx="243.4" cy="274.3" rx="1.15" ry="1.4"/><ellipse cx="220.1" cy="269.1" rx="1.15" ry="1.4"/><ellipse cx="227.8" cy="273.7" rx="1.15" ry="1.4"/><ellipse cx="216.8" cy="269.7" rx="1.15" ry="1.4"/><ellipse cx="220.3" cy="269.6" rx="1.15" ry="1.4"/><ellipse cx="228.5" cy="269.9" rx="1.15" ry="1.4"/><ellipse cx="221.3" cy="287.0" rx="1.15" ry="1.4"/><ellipse cx="238.4" cy="284.6" rx="1.15" ry="1.4"/><ellipse cx="223.1" cy="287.6" rx="1.15" ry="1.4"/><ellipse cx="220.3" cy="275.3" rx="1.15" ry="1.4"/><ellipse cx="239.6" cy="276.4" rx="1.15" ry="1.4"/><ellipse cx="250.8" cy="275.2" rx="1.15" ry="1.4"/><ellipse cx="236.2" cy="279.5" rx="1.15" ry="1.4"/><ellipse cx="238.0" cy="278.1" rx="1.15" ry="1.4"/><ellipse cx="227.4" cy="281.5" rx="1.15" ry="1.4"/><ellipse cx="214.4" cy="257.7" rx="1.15" ry="1.4"/><ellipse cx="208.0" cy="250.9" rx="1.15" ry="1.4"/><ellipse cx="243.2" cy="260.9" rx="1.15" ry="1.4"/><ellipse cx="217.3" cy="253.6" rx="1.15" ry="1.4"/><ellipse cx="219.0" cy="250.6" rx="1.15" ry="1.4"/><ellipse cx="219.5" cy="266.8" rx="1.15" ry="1.4"/><ellipse cx="253.3" cy="256.4" rx="1.15" ry="1.4"/><ellipse cx="214.7" cy="266.7" rx="1.15" ry="1.4"/><ellipse cx="217.9" cy="251.5" rx="1.15" ry="1.4"/><ellipse cx="247.0" cy="262.2" rx="1.15" ry="1.4"/><ellipse cx="221.4" cy="264.5" rx="1.15" ry="1.4"/><ellipse cx="253.7" cy="252.8" rx="1.15" ry="1.4"/><ellipse cx="212.0" cy="261.3" rx="1.15" ry="1.4"/><ellipse cx="223.1" cy="256.0" rx="1.15" ry="1.4"/><ellipse cx="220.1" cy="268.5" rx="1.15" ry="1.4"/><ellipse cx="248.6" cy="252.0" rx="1.15" ry="1.4"/><ellipse cx="211.6" cy="252.9" rx="1.15" ry="1.4"/><ellipse cx="245.6" cy="266.1" rx="1.15" ry="1.4"/><ellipse cx="243.3" cy="261.6" rx="1.15" ry="1.4"/><ellipse cx="249.8" cy="253.8" rx="1.15" ry="1.4"/><ellipse cx="217.4" cy="261.9" rx="1.15" ry="1.4"/><ellipse cx="218.8" cy="260.7" rx="1.15" ry="1.4"/><ellipse cx="251.0" cy="258.1" rx="1.15" ry="1.4"/><ellipse cx="219.9" cy="257.0" rx="1.15" ry="1.4"/><ellipse cx="251.2" cy="258.1" rx="1.15" ry="1.4"/><ellipse cx="219.4" cy="255.6" rx="1.15" ry="1.4"/><ellipse cx="226.4" cy="268.5" rx="1.15" ry="1.4"/><ellipse cx="247.8" cy="253.0" rx="1.15" ry="1.4"/><ellipse cx="249.6" cy="259.8" rx="1.15" ry="1.4"/><ellipse cx="249.5" cy="257.2" rx="1.15" ry="1.4"/><ellipse cx="217.2" cy="256.8" rx="1.15" ry="1.4"/><ellipse cx="219.9" cy="256.6" rx="1.15" ry="1.4"/><ellipse cx="242.2" cy="257.4" rx="1.15" ry="1.4"/><ellipse cx="211.7" cy="268.1" rx="1.15" ry="1.4"/><ellipse cx="240.7" cy="268.2" rx="1.15" ry="1.4"/><ellipse cx="248.2" cy="261.7" rx="1.15" ry="1.4"/><ellipse cx="219.1" cy="265.3" rx="1.15" ry="1.4"/><ellipse cx="248.1" cy="258.4" rx="1.15" ry="1.4"/><ellipse cx="251.0" cy="264.6" rx="1.15" ry="1.4"/><ellipse cx="249.1" cy="254.1" rx="1.15" ry="1.4"/><ellipse cx="247.5" cy="265.1" rx="1.15" ry="1.4"/><ellipse cx="221.1" cy="261.5" rx="1.15" ry="1.4"/><ellipse cx="251.2" cy="267.6" rx="1.15" ry="1.4"/><ellipse cx="241.9" cy="251.8" rx="1.15" ry="1.4"/><ellipse cx="218.7" cy="249.2" rx="1.15" ry="1.4"/><ellipse cx="244.1" cy="253.7" rx="1.15" ry="1.4"/><ellipse cx="219.1" cy="267.1" rx="1.15" ry="1.4"/><ellipse cx="248.0" cy="267.0" rx="1.15" ry="1.4"/><ellipse cx="242.8" cy="259.6" rx="1.15" ry="1.4"/><ellipse cx="241.0" cy="265.5" rx="1.15" ry="1.4"/><ellipse cx="221.6" cy="258.3" rx="1.15" ry="1.4"/><ellipse cx="220.5" cy="263.7" rx="1.15" ry="1.4"/><ellipse cx="243.2" cy="260.3" rx="1.15" ry="1.4"/><ellipse cx="244.2" cy="250.5" rx="1.15" ry="1.4"/><ellipse cx="240.1" cy="261.2" rx="1.15" ry="1.4"/><ellipse cx="214.8" cy="251.9" rx="1.15" ry="1.4"/><ellipse cx="250.5" cy="255.8" rx="1.15" ry="1.4"/><ellipse cx="248.5" cy="254.7" rx="1.15" ry="1.4"/><ellipse cx="244.3" cy="265.5" rx="1.15" ry="1.4"/><ellipse cx="261.6" cy="266.5" rx="1.15" ry="1.4"/><ellipse cx="223.2" cy="262.1" rx="1.15" ry="1.4"/><ellipse cx="218.4" cy="261.7" rx="1.15" ry="1.4"/><ellipse cx="221.6" cy="257.1" rx="1.15" ry="1.4"/><ellipse cx="212.6" cy="258.5" rx="1.15" ry="1.4"/><ellipse cx="218.5" cy="261.2" rx="1.15" ry="1.4"/><ellipse cx="243.4" cy="253.3" rx="1.15" ry="1.4"/><ellipse cx="225.2" cy="262.3" rx="1.15" ry="1.4"/><ellipse cx="221.2" cy="266.4" rx="1.15" ry="1.4"/><ellipse cx="243.6" cy="254.2" rx="1.15" ry="1.4"/><ellipse cx="219.4" cy="260.6" rx="1.15" ry="1.4"/><ellipse cx="251.7" cy="265.5" rx="1.15" ry="1.4"/><ellipse cx="219.5" cy="256.7" rx="1.15" ry="1.4"/><ellipse cx="244.5" cy="251.0" rx="1.15" ry="1.4"/><ellipse cx="213.3" cy="262.7" rx="1.15" ry="1.4"/><ellipse cx="225.0" cy="266.2" rx="1.15" ry="1.4"/><ellipse cx="209.3" cy="253.8" rx="1.15" ry="1.4"/><ellipse cx="224.1" cy="256.3" rx="1.15" ry="1.4"/><ellipse cx="259.3" cy="258.2" rx="1.15" ry="1.4"/><ellipse cx="222.7" cy="250.1" rx="1.15" ry="1.4"/><ellipse cx="249.8" cy="250.6" rx="1.15" ry="1.4"/><ellipse cx="244.0" cy="268.2" rx="1.15" ry="1.4"/><ellipse cx="215.2" cy="258.4" rx="1.15" ry="1.4"/><ellipse cx="220.4" cy="256.3" rx="1.15" ry="1.4"/><ellipse cx="240.9" cy="267.9" rx="1.15" ry="1.4"/><ellipse cx="248.6" cy="268.5" rx="1.15" ry="1.4"/><ellipse cx="253.3" cy="265.7" rx="1.15" ry="1.4"/><ellipse cx="251.4" cy="253.9" rx="1.15" ry="1.4"/><ellipse cx="221.5" cy="254.7" rx="1.15" ry="1.4"/><ellipse cx="219.0" cy="252.1" rx="1.15" ry="1.4"/><ellipse cx="241.6" cy="251.9" rx="1.15" ry="1.4"/><ellipse cx="251.4" cy="260.1" rx="1.15" ry="1.4"/><ellipse cx="242.6" cy="261.1" rx="1.15" ry="1.4"/><ellipse cx="216.5" cy="254.1" rx="1.15" ry="1.4"/><ellipse cx="220.3" cy="264.4" rx="1.15" ry="1.4"/><ellipse cx="250.0" cy="254.2" rx="1.15" ry="1.4"/><ellipse cx="250.5" cy="252.6" rx="1.15" ry="1.4"/><ellipse cx="214.1" cy="257.0" rx="1.15" ry="1.4"/><ellipse cx="243.3" cy="256.4" rx="1.15" ry="1.4"/><ellipse cx="248.8" cy="260.9" rx="1.15" ry="1.4"/><ellipse cx="242.1" cy="266.4" rx="1.15" ry="1.4"/><ellipse cx="258.2" cy="248.1" rx="1.15" ry="1.4"/><ellipse cx="245.9" cy="248.6" rx="1.15" ry="1.4"/><ellipse cx="241.9" cy="248.9" rx="1.15" ry="1.4"/><ellipse cx="212.0" cy="242.4" rx="1.15" ry="1.4"/><ellipse cx="216.1" cy="248.1" rx="1.15" ry="1.4"/><ellipse cx="255.7" cy="245.0" rx="1.15" ry="1.4"/><ellipse cx="204.8" cy="241.3" rx="1.15" ry="1.4"/><ellipse cx="253.5" cy="239.9" rx="1.15" ry="1.4"/><ellipse cx="210.7" cy="237.1" rx="1.15" ry="1.4"/><ellipse cx="211.3" cy="242.7" rx="1.15" ry="1.4"/><ellipse cx="248.6" cy="248.3" rx="1.15" ry="1.4"/><ellipse cx="250.9" cy="241.3" rx="1.15" ry="1.4"/><ellipse cx="204.2" cy="238.9" rx="1.15" ry="1.4"/><ellipse cx="211.4" cy="247.9" rx="1.15" ry="1.4"/><ellipse cx="247.7" cy="237.7" rx="1.15" ry="1.4"/><ellipse cx="216.1" cy="248.1" rx="1.15" ry="1.4"/><ellipse cx="210.4" cy="240.9" rx="1.15" ry="1.4"/><ellipse cx="248.7" cy="237.5" rx="1.15" ry="1.4"/><ellipse cx="247.6" cy="247.4" rx="1.15" ry="1.4"/><ellipse cx="217.4" cy="240.4" rx="1.15" ry="1.4"/><ellipse cx="262.0" cy="242.4" rx="1.15" ry="1.4"/><ellipse cx="209.1" cy="245.0" rx="1.15" ry="1.4"/><ellipse cx="200.6" cy="238.3" rx="1.15" ry="1.4"/><ellipse cx="214.8" cy="239.7" rx="1.15" ry="1.4"/><ellipse cx="207.7" cy="247.7" rx="1.15" ry="1.4"/><ellipse cx="251.9" cy="242.2" rx="1.15" ry="1.4"/><ellipse cx="250.2" cy="246.4" rx="1.15" ry="1.4"/><ellipse cx="214.1" cy="243.8" rx="1.15" ry="1.4"/><ellipse cx="216.5" cy="239.6" rx="1.15" ry="1.4"/><ellipse cx="246.9" cy="242.8" rx="1.15" ry="1.4"/></g>
<g fill="#00cd2a"><ellipse cx="183.6" cy="23.0" rx="1.15" ry="1.4"/><ellipse cx="129.8" cy="95.0" rx="1.15" ry="1.4"/><ellipse cx="146.8" cy="114.4" rx="1.15" ry="1.4"/><ellipse cx="172.0" cy="113.2" rx="1.15" ry="1.4"/><ellipse cx="174.2" cy="120.4" rx="1.15" ry="1.4"/><ellipse cx="115.0" cy="124.8" rx="1.15" ry="1.4"/><ellipse cx="133.4" cy="122.4" rx="1.15" ry="1.4"/><ellipse cx="150.6" cy="139.6" rx="1.15" ry="1.4"/><ellipse cx="169.0" cy="142.0" rx="1.15" ry="1.4"/><ellipse cx="171.6" cy="140.8" rx="1.15" ry="1.4"/><ellipse cx="170.4" cy="149.6" rx="1.15" ry="1.4"/><ellipse cx="176.6" cy="148.0" rx="1.15" ry="1.4"/><ellipse cx="174.0" cy="155.6" rx="1.15" ry="1.4"/><ellipse cx="178.6" cy="153.2" rx="1.15" ry="1.4"/><ellipse cx="186.0" cy="156.4" rx="1.15" ry="1.4"/><ellipse cx="184.8" cy="160.4" rx="1.15" ry="1.4"/><ellipse cx="187.4" cy="164.4" rx="1.15" ry="1.4"/><ellipse cx="155.6" cy="165.2" rx="1.15" ry="1.4"/><ellipse cx="137.2" cy="167.6" rx="1.15" ry="1.4"/><ellipse cx="154.4" cy="174.8" rx="1.15" ry="1.4"/><ellipse cx="166.8" cy="172.4" rx="1.15" ry="1.4"/><ellipse cx="170.0" cy="170.4" rx="1.15" ry="1.4"/><ellipse cx="175.6" cy="171.2" rx="1.15" ry="1.4"/><ellipse cx="181.0" cy="174.8" rx="1.15" ry="1.4"/><ellipse cx="182.2" cy="176.4" rx="1.15" ry="1.4"/><ellipse cx="189.6" cy="180.0" rx="1.15" ry="1.4"/><ellipse cx="171.8" cy="182.4" rx="1.15" ry="1.4"/><ellipse cx="181.0" cy="186.0" rx="1.15" ry="1.4"/><ellipse cx="152.6" cy="190.8" rx="1.15" ry="1.4"/><ellipse cx="164.0" cy="192.4" rx="1.15" ry="1.4"/><ellipse cx="166.0" cy="189.0" rx="1.15" ry="1.4"/><ellipse cx="170.0" cy="191.2" rx="1.15" ry="1.4"/><ellipse cx="173.6" cy="188.0" rx="1.15" ry="1.4"/><ellipse cx="174.4" cy="190.4" rx="1.15" ry="1.4"/><ellipse cx="175.0" cy="192.0" rx="1.15" ry="1.4"/><ellipse cx="182.4" cy="189.6" rx="1.15" ry="1.4"/><ellipse cx="184.0" cy="188.4" rx="1.15" ry="1.4"/><ellipse cx="190.6" cy="100.6" rx="1.15" ry="1.4"/><ellipse cx="205.6" cy="150.4" rx="1.15" ry="1.4"/><ellipse cx="195.0" cy="157.6" rx="1.15" ry="1.4"/><ellipse cx="209.0" cy="165.6" rx="1.15" ry="1.4"/><ellipse cx="191.0" cy="166.0" rx="1.15" ry="1.4"/><ellipse cx="190.6" cy="168.0" rx="1.15" ry="1.4"/><ellipse cx="211.6" cy="174.8" rx="1.15" ry="1.4"/><ellipse cx="196.0" cy="175.0" rx="1.15" ry="1.4"/><ellipse cx="193.0" cy="177.0" rx="1.15" ry="1.4"/><ellipse cx="201.0" cy="176.4" rx="1.15" ry="1.4"/><ellipse cx="191.0" cy="180.0" rx="1.15" ry="1.4"/><ellipse cx="202.4" cy="179.2" rx="1.15" ry="1.4"/><ellipse cx="204.4" cy="180.8" rx="1.15" ry="1.4"/><ellipse cx="198.0" cy="182.0" rx="1.15" ry="1.4"/><ellipse cx="199.6" cy="183.6" rx="1.15" ry="1.4"/><ellipse cx="195.6" cy="184.4" rx="1.15" ry="1.4"/><ellipse cx="206.4" cy="184.4" rx="1.15" ry="1.4"/><ellipse cx="201.0" cy="188.0" rx="1.15" ry="1.4"/><ellipse cx="198.0" cy="189.0" rx="1.15" ry="1.4"/><ellipse cx="212.4" cy="190.4" rx="1.15" ry="1.4"/><ellipse cx="201.0" cy="192.0" rx="1.15" ry="1.4"/><ellipse cx="205.0" cy="192.4" rx="1.15" ry="1.4"/><ellipse cx="208.4" cy="193.6" rx="1.15" ry="1.4"/><ellipse cx="104.6" cy="202.4" rx="1.15" ry="1.4"/><ellipse cx="96.0" cy="210.2" rx="1.15" ry="1.4"/><ellipse cx="155.0" cy="197.4" rx="1.15" ry="1.4"/><ellipse cx="164.0" cy="197.0" rx="1.15" ry="1.4"/><ellipse cx="166.0" cy="196.0" rx="1.15" ry="1.4"/><ellipse cx="168.6" cy="198.0" rx="1.15" ry="1.4"/><ellipse cx="173.6" cy="197.4" rx="1.15" ry="1.4"/><ellipse cx="176.0" cy="196.0" rx="1.15" ry="1.4"/><ellipse cx="180.6" cy="198.6" rx="1.15" ry="1.4"/><ellipse cx="183.4" cy="198.6" rx="1.15" ry="1.4"/><ellipse cx="160.0" cy="202.4" rx="1.15" ry="1.4"/><ellipse cx="169.0" cy="202.4" rx="1.15" ry="1.4"/><ellipse cx="173.4" cy="202.4" rx="1.15" ry="1.4"/><ellipse cx="177.0" cy="203.4" rx="1.15" ry="1.4"/><ellipse cx="178.4" cy="203.0" rx="1.15" ry="1.4"/><ellipse cx="184.0" cy="203.4" rx="1.15" ry="1.4"/><ellipse cx="185.4" cy="205.0" rx="1.15" ry="1.4"/><ellipse cx="189.6" cy="203.0" rx="1.15" ry="1.4"/><ellipse cx="173.6" cy="206.4" rx="1.15" ry="1.4"/><ellipse cx="187.0" cy="206.4" rx="1.15" ry="1.4"/><ellipse cx="188.0" cy="210.0" rx="1.15" ry="1.4"/><ellipse cx="147.0" cy="214.2" rx="1.15" ry="1.4"/><ellipse cx="160.2" cy="216.0" rx="1.15" ry="1.4"/><ellipse cx="175.0" cy="213.0" rx="1.15" ry="1.4"/><ellipse cx="177.4" cy="215.4" rx="1.15" ry="1.4"/><ellipse cx="180.0" cy="218.0" rx="1.15" ry="1.4"/><ellipse cx="184.0" cy="218.6" rx="1.15" ry="1.4"/><ellipse cx="189.0" cy="218.0" rx="1.15" ry="1.4"/><ellipse cx="171.0" cy="219.4" rx="1.15" ry="1.4"/><ellipse cx="174.4" cy="221.0" rx="1.15" ry="1.4"/><ellipse cx="189.6" cy="222.6" rx="1.15" ry="1.4"/><ellipse cx="185.0" cy="222.6" rx="1.15" ry="1.4"/><ellipse cx="182.0" cy="224.6" rx="1.15" ry="1.4"/><ellipse cx="183.6" cy="227.4" rx="1.15" ry="1.4"/><ellipse cx="180.0" cy="228.6" rx="1.15" ry="1.4"/><ellipse cx="187.0" cy="229.0" rx="1.15" ry="1.4"/><ellipse cx="189.0" cy="231.0" rx="1.15" ry="1.4"/><ellipse cx="178.0" cy="230.6" rx="1.15" ry="1.4"/><ellipse cx="174.0" cy="231.0" rx="1.15" ry="1.4"/><ellipse cx="165.2" cy="230.0" rx="1.15" ry="1.4"/><ellipse cx="150.0" cy="231.4" rx="1.15" ry="1.4"/><ellipse cx="181.6" cy="232.6" rx="1.15" ry="1.4"/><ellipse cx="186.0" cy="233.4" rx="1.15" ry="1.4"/><ellipse cx="175.0" cy="235.6" rx="1.15" ry="1.4"/><ellipse cx="188.0" cy="233.0" rx="1.15" ry="1.4"/><ellipse cx="192.2" cy="195.8" rx="1.15" ry="1.4"/><ellipse cx="206.5" cy="196.8" rx="1.15" ry="1.4"/><ellipse cx="197.1" cy="198.8" rx="1.15" ry="1.4"/><ellipse cx="201.1" cy="199.8" rx="1.15" ry="1.4"/><ellipse cx="216.0" cy="199.9" rx="1.15" ry="1.4"/><ellipse cx="214.1" cy="202.9" rx="1.15" ry="1.4"/><ellipse cx="195.3" cy="203.6" rx="1.15" ry="1.4"/><ellipse cx="191.8" cy="204.8" rx="1.15" ry="1.4"/><ellipse cx="202.9" cy="205.6" rx="1.15" ry="1.4"/><ellipse cx="204.2" cy="207.3" rx="1.15" ry="1.4"/><ellipse cx="194.9" cy="207.3" rx="1.15" ry="1.4"/><ellipse cx="199.1" cy="207.9" rx="1.15" ry="1.4"/><ellipse cx="212.4" cy="207.6" rx="1.15" ry="1.4"/><ellipse cx="190.5" cy="207.1" rx="1.15" ry="1.4"/><ellipse cx="200.1" cy="211.2" rx="1.15" ry="1.4"/><ellipse cx="195.6" cy="211.7" rx="1.15" ry="1.4"/><ellipse cx="199.6" cy="213.7" rx="1.15" ry="1.4"/><ellipse cx="195.1" cy="212.7" rx="1.15" ry="1.4"/><ellipse cx="209.9" cy="213.5" rx="1.15" ry="1.4"/><ellipse cx="215.5" cy="213.4" rx="1.15" ry="1.4"/><ellipse cx="203.1" cy="214.2" rx="1.15" ry="1.4"/><ellipse cx="192.0" cy="215.7" rx="1.15" ry="1.4"/><ellipse cx="202.1" cy="216.4" rx="1.15" ry="1.4"/><ellipse cx="190.8" cy="216.7" rx="1.15" ry="1.4"/><ellipse cx="203.7" cy="215.7" rx="1.15" ry="1.4"/><ellipse cx="198.9" cy="220.3" rx="1.15" ry="1.4"/><ellipse cx="194.6" cy="222.1" rx="1.15" ry="1.4"/><ellipse cx="191.0" cy="221.1" rx="1.15" ry="1.4"/><ellipse cx="203.7" cy="220.8" rx="1.15" ry="1.4"/><ellipse cx="208.2" cy="221.3" rx="1.15" ry="1.4"/><ellipse cx="211.7" cy="220.8" rx="1.15" ry="1.4"/><ellipse cx="216.0" cy="220.8" rx="1.15" ry="1.4"/><ellipse cx="200.1" cy="222.8" rx="1.15" ry="1.4"/><ellipse cx="191.5" cy="224.3" rx="1.15" ry="1.4"/><ellipse cx="195.1" cy="224.8" rx="1.15" ry="1.4"/><ellipse cx="205.4" cy="225.1" rx="1.15" ry="1.4"/><ellipse cx="210.7" cy="225.8" rx="1.15" ry="1.4"/><ellipse cx="214.1" cy="225.3" rx="1.15" ry="1.4"/><ellipse cx="194.0" cy="226.9" rx="1.15" ry="1.4"/><ellipse cx="204.7" cy="227.2" rx="1.15" ry="1.4"/><ellipse cx="206.7" cy="227.9" rx="1.15" ry="1.4"/><ellipse cx="194.6" cy="228.9" rx="1.15" ry="1.4"/><ellipse cx="199.6" cy="229.4" rx="1.15" ry="1.4"/><ellipse cx="202.1" cy="230.2" rx="1.15" ry="1.4"/><ellipse cx="208.7" cy="230.4" rx="1.15" ry="1.4"/><ellipse cx="193.8" cy="231.9" rx="1.15" ry="1.4"/><ellipse cx="201.1" cy="232.9" rx="1.15" ry="1.4"/><ellipse cx="204.7" cy="233.2" rx="1.15" ry="1.4"/><ellipse cx="209.2" cy="233.4" rx="1.15" ry="1.4"/><ellipse cx="217.1" cy="233.4" rx="1.15" ry="1.4"/><ellipse cx="198.6" cy="235.4" rx="1.15" ry="1.4"/><ellipse cx="191.0" cy="235.4" rx="1.15" ry="1.4"/><ellipse cx="207.7" cy="235.6" rx="1.15" ry="1.4"/><ellipse cx="217.1" cy="235.4" rx="1.15" ry="1.4"/></g>
<g fill="#ff1a1a"><ellipse cx="299.6" cy="42.6" rx="1.15" ry="1.4"/><ellipse cx="292.4" cy="63.0" rx="1.15" ry="1.4"/><ellipse cx="293.8" cy="65.6" rx="1.15" ry="1.4"/><ellipse cx="288.4" cy="79.4" rx="1.15" ry="1.4"/><ellipse cx="293.4" cy="81.0" rx="1.15" ry="1.4"/><ellipse cx="281.4" cy="98.2" rx="1.15" ry="1.4"/><ellipse cx="323.6" cy="50.0" rx="1.15" ry="1.4"/><ellipse cx="307.6" cy="72.4" rx="1.15" ry="1.4"/><ellipse cx="303.4" cy="84.0" rx="1.15" ry="1.4"/><ellipse cx="334.6" cy="89.4" rx="1.15" ry="1.4"/><ellipse cx="338.0" cy="94.8" rx="1.15" ry="1.4"/><ellipse cx="270.6" cy="102.4" rx="1.15" ry="1.4"/><ellipse cx="274.4" cy="107.0" rx="1.15" ry="1.4"/><ellipse cx="278.6" cy="107.0" rx="1.15" ry="1.4"/><ellipse cx="271.2" cy="110.4" rx="1.15" ry="1.4"/><ellipse cx="290.4" cy="111.0" rx="1.15" ry="1.4"/><ellipse cx="266.6" cy="115.0" rx="1.15" ry="1.4"/><ellipse cx="268.0" cy="118.0" rx="1.15" ry="1.4"/><ellipse cx="260.0" cy="119.0" rx="1.15" ry="1.4"/><ellipse cx="298.0" cy="129.0" rx="1.15" ry="1.4"/><ellipse cx="254.6" cy="134.4" rx="1.15" ry="1.4"/><ellipse cx="259.0" cy="136.6" rx="1.15" ry="1.4"/><ellipse cx="283.0" cy="135.2" rx="1.15" ry="1.4"/><ellipse cx="296.4" cy="137.6" rx="1.15" ry="1.4"/><ellipse cx="254.0" cy="151.6" rx="1.15" ry="1.4"/><ellipse cx="256.0" cy="151.0" rx="1.15" ry="1.4"/><ellipse cx="271.4" cy="150.4" rx="1.15" ry="1.4"/><ellipse cx="288.0" cy="148.4" rx="1.15" ry="1.4"/><ellipse cx="290.6" cy="147.4" rx="1.15" ry="1.4"/><ellipse cx="298.6" cy="149.0" rx="1.15" ry="1.4"/><ellipse cx="260.6" cy="155.6" rx="1.15" ry="1.4"/><ellipse cx="265.6" cy="158.0" rx="1.15" ry="1.4"/><ellipse cx="276.0" cy="157.0" rx="1.15" ry="1.4"/><ellipse cx="288.0" cy="155.6" rx="1.15" ry="1.4"/><ellipse cx="290.0" cy="154.4" rx="1.15" ry="1.4"/><ellipse cx="253.6" cy="160.4" rx="1.15" ry="1.4"/><ellipse cx="270.6" cy="161.6" rx="1.15" ry="1.4"/><ellipse cx="288.6" cy="164.4" rx="1.15" ry="1.4"/><ellipse cx="265.0" cy="165.0" rx="1.15" ry="1.4"/><ellipse cx="263.6" cy="168.0" rx="1.15" ry="1.4"/><ellipse cx="278.0" cy="166.4" rx="1.15" ry="1.4"/><ellipse cx="281.6" cy="168.0" rx="1.15" ry="1.4"/><ellipse cx="300.0" cy="168.4" rx="1.15" ry="1.4"/><ellipse cx="253.6" cy="171.6" rx="1.15" ry="1.4"/><ellipse cx="260.4" cy="171.6" rx="1.15" ry="1.4"/><ellipse cx="272.4" cy="170.0" rx="1.15" ry="1.4"/><ellipse cx="274.4" cy="169.4" rx="1.15" ry="1.4"/><ellipse cx="271.6" cy="172.0" rx="1.15" ry="1.4"/><ellipse cx="287.4" cy="172.0" rx="1.15" ry="1.4"/><ellipse cx="266.6" cy="177.6" rx="1.15" ry="1.4"/><ellipse cx="289.6" cy="176.0" rx="1.15" ry="1.4"/><ellipse cx="286.4" cy="178.4" rx="1.15" ry="1.4"/><ellipse cx="264.4" cy="183.0" rx="1.15" ry="1.4"/><ellipse cx="287.4" cy="185.0" rx="1.15" ry="1.4"/><ellipse cx="258.0" cy="187.6" rx="1.15" ry="1.4"/><ellipse cx="277.0" cy="187.2" rx="1.15" ry="1.4"/><ellipse cx="284.0" cy="188.0" rx="1.15" ry="1.4"/><ellipse cx="254.4" cy="190.4" rx="1.15" ry="1.4"/><ellipse cx="257.6" cy="192.0" rx="1.15" ry="1.4"/><ellipse cx="270.0" cy="190.0" rx="1.15" ry="1.4"/><ellipse cx="275.6" cy="192.0" rx="1.15" ry="1.4"/><ellipse cx="273.0" cy="193.2" rx="1.15" ry="1.4"/><ellipse cx="281.0" cy="192.4" rx="1.15" ry="1.4"/><ellipse cx="288.0" cy="191.0" rx="1.15" ry="1.4"/><ellipse cx="260.4" cy="194.0" rx="1.15" ry="1.4"/><ellipse cx="279.0" cy="194.0" rx="1.15" ry="1.4"/><ellipse cx="303.4" cy="115.2" rx="1.15" ry="1.4"/><ellipse cx="308.4" cy="116.6" rx="1.15" ry="1.4"/><ellipse cx="310.8" cy="118.2" rx="1.15" ry="1.4"/><ellipse cx="301.4" cy="121.4" rx="1.15" ry="1.4"/><ellipse cx="325.6" cy="124.6" rx="1.15" ry="1.4"/><ellipse cx="301.0" cy="130.0" rx="1.15" ry="1.4"/><ellipse cx="310.0" cy="129.4" rx="1.15" ry="1.4"/><ellipse cx="319.4" cy="133.0" rx="1.15" ry="1.4"/><ellipse cx="310.4" cy="144.0" rx="1.15" ry="1.4"/><ellipse cx="305.4" cy="146.4" rx="1.15" ry="1.4"/><ellipse cx="305.6" cy="151.4" rx="1.15" ry="1.4"/><ellipse cx="306.6" cy="156.2" rx="1.15" ry="1.4"/><ellipse cx="315.0" cy="157.4" rx="1.15" ry="1.4"/><ellipse cx="300.6" cy="168.6" rx="1.15" ry="1.4"/><ellipse cx="318.2" cy="173.8" rx="1.15" ry="1.4"/><ellipse cx="320.8" cy="178.8" rx="1.15" ry="1.4"/><ellipse cx="325.2" cy="178.8" rx="1.15" ry="1.4"/><ellipse cx="381.2" cy="173.6" rx="1.15" ry="1.4"/><ellipse cx="301.0" cy="178.4" rx="1.15" ry="1.4"/><ellipse cx="304.6" cy="184.6" rx="1.15" ry="1.4"/><ellipse cx="301.6" cy="186.4" rx="1.15" ry="1.4"/><ellipse cx="302.4" cy="189.0" rx="1.15" ry="1.4"/><ellipse cx="303.4" cy="191.6" rx="1.15" ry="1.4"/><ellipse cx="304.0" cy="194.0" rx="1.15" ry="1.4"/><ellipse cx="260.4" cy="195.3" rx="1.15" ry="1.4"/><ellipse cx="271.5" cy="195.5" rx="1.15" ry="1.4"/><ellipse cx="278.4" cy="195.5" rx="1.15" ry="1.4"/><ellipse cx="267.2" cy="196.8" rx="1.15" ry="1.4"/><ellipse cx="263.7" cy="197.8" rx="1.15" ry="1.4"/><ellipse cx="293.7" cy="196.8" rx="1.15" ry="1.4"/><ellipse cx="256.9" cy="199.2" rx="1.15" ry="1.4"/><ellipse cx="266.2" cy="200.1" rx="1.15" ry="1.4"/><ellipse cx="291.0" cy="199.9" rx="1.15" ry="1.4"/><ellipse cx="251.1" cy="201.9" rx="1.15" ry="1.4"/><ellipse cx="255.6" cy="201.3" rx="1.15" ry="1.4"/><ellipse cx="270.8" cy="201.3" rx="1.15" ry="1.4"/><ellipse cx="264.7" cy="201.9" rx="1.15" ry="1.4"/><ellipse cx="288.7" cy="201.9" rx="1.15" ry="1.4"/><ellipse cx="277.9" cy="202.9" rx="1.15" ry="1.4"/><ellipse cx="253.9" cy="205.1" rx="1.15" ry="1.4"/><ellipse cx="263.0" cy="205.1" rx="1.15" ry="1.4"/><ellipse cx="269.1" cy="204.6" rx="1.15" ry="1.4"/><ellipse cx="283.9" cy="204.6" rx="1.15" ry="1.4"/><ellipse cx="290.3" cy="205.3" rx="1.15" ry="1.4"/><ellipse cx="297.1" cy="204.1" rx="1.15" ry="1.4"/><ellipse cx="265.2" cy="207.3" rx="1.15" ry="1.4"/><ellipse cx="268.8" cy="206.6" rx="1.15" ry="1.4"/><ellipse cx="278.4" cy="206.3" rx="1.15" ry="1.4"/><ellipse cx="287.0" cy="207.1" rx="1.15" ry="1.4"/><ellipse cx="253.6" cy="208.1" rx="1.15" ry="1.4"/><ellipse cx="272.8" cy="208.3" rx="1.15" ry="1.4"/><ellipse cx="266.7" cy="210.2" rx="1.15" ry="1.4"/><ellipse cx="276.3" cy="208.7" rx="1.15" ry="1.4"/><ellipse cx="254.1" cy="211.0" rx="1.15" ry="1.4"/><ellipse cx="258.7" cy="211.2" rx="1.15" ry="1.4"/><ellipse cx="264.2" cy="211.2" rx="1.15" ry="1.4"/><ellipse cx="272.3" cy="211.0" rx="1.15" ry="1.4"/><ellipse cx="270.1" cy="213.4" rx="1.15" ry="1.4"/><ellipse cx="299.1" cy="213.2" rx="1.15" ry="1.4"/><ellipse cx="280.2" cy="213.4" rx="1.15" ry="1.4"/><ellipse cx="295.4" cy="214.9" rx="1.15" ry="1.4"/><ellipse cx="260.2" cy="214.2" rx="1.15" ry="1.4"/><ellipse cx="257.1" cy="216.0" rx="1.15" ry="1.4"/><ellipse cx="262.7" cy="216.7" rx="1.15" ry="1.4"/><ellipse cx="278.2" cy="216.4" rx="1.15" ry="1.4"/><ellipse cx="269.8" cy="216.7" rx="1.15" ry="1.4"/><ellipse cx="258.1" cy="218.8" rx="1.15" ry="1.4"/><ellipse cx="252.6" cy="218.8" rx="1.15" ry="1.4"/><ellipse cx="268.8" cy="219.3" rx="1.15" ry="1.4"/><ellipse cx="264.7" cy="219.8" rx="1.15" ry="1.4"/><ellipse cx="285.7" cy="218.1" rx="1.15" ry="1.4"/><ellipse cx="251.6" cy="220.8" rx="1.15" ry="1.4"/><ellipse cx="288.0" cy="220.8" rx="1.15" ry="1.4"/><ellipse cx="262.2" cy="222.1" rx="1.15" ry="1.4"/><ellipse cx="255.6" cy="223.3" rx="1.15" ry="1.4"/><ellipse cx="256.6" cy="224.3" rx="1.15" ry="1.4"/><ellipse cx="265.7" cy="224.3" rx="1.15" ry="1.4"/><ellipse cx="281.4" cy="225.3" rx="1.15" ry="1.4"/><ellipse cx="283.9" cy="224.8" rx="1.15" ry="1.4"/><ellipse cx="272.8" cy="226.5" rx="1.15" ry="1.4"/><ellipse cx="251.1" cy="227.9" rx="1.15" ry="1.4"/><ellipse cx="261.2" cy="227.9" rx="1.15" ry="1.4"/><ellipse cx="265.7" cy="227.9" rx="1.15" ry="1.4"/><ellipse cx="269.3" cy="228.9" rx="1.15" ry="1.4"/><ellipse cx="281.2" cy="227.6" rx="1.15" ry="1.4"/><ellipse cx="286.5" cy="228.9" rx="1.15" ry="1.4"/><ellipse cx="291.3" cy="229.7" rx="1.15" ry="1.4"/><ellipse cx="255.9" cy="229.4" rx="1.15" ry="1.4"/><ellipse cx="253.1" cy="230.9" rx="1.15" ry="1.4"/><ellipse cx="260.7" cy="230.4" rx="1.15" ry="1.4"/><ellipse cx="268.3" cy="231.2" rx="1.15" ry="1.4"/><ellipse cx="277.2" cy="230.9" rx="1.15" ry="1.4"/><ellipse cx="279.9" cy="230.4" rx="1.15" ry="1.4"/><ellipse cx="282.4" cy="229.4" rx="1.15" ry="1.4"/><ellipse cx="251.1" cy="232.4" rx="1.15" ry="1.4"/><ellipse cx="258.1" cy="233.2" rx="1.15" ry="1.4"/><ellipse cx="261.2" cy="233.9" rx="1.15" ry="1.4"/><ellipse cx="264.7" cy="233.6" rx="1.15" ry="1.4"/><ellipse cx="271.1" cy="233.2" rx="1.15" ry="1.4"/><ellipse cx="281.9" cy="233.9" rx="1.15" ry="1.4"/><ellipse cx="274.3" cy="234.9" rx="1.15" ry="1.4"/><ellipse cx="255.9" cy="235.2" rx="1.15" ry="1.4"/><ellipse cx="284.9" cy="235.2" rx="1.15" ry="1.4"/><ellipse cx="303.6" cy="195.6" rx="1.15" ry="1.4"/><ellipse cx="306.4" cy="196.6" rx="1.15" ry="1.4"/><ellipse cx="308.4" cy="201.6" rx="1.15" ry="1.4"/><ellipse cx="319.2" cy="201.6" rx="1.15" ry="1.4"/><ellipse cx="302.0" cy="205.4" rx="1.15" ry="1.4"/><ellipse cx="305.6" cy="212.0" rx="1.15" ry="1.4"/><ellipse cx="334.4" cy="211.4" rx="1.15" ry="1.4"/><ellipse cx="311.0" cy="221.0" rx="1.15" ry="1.4"/><ellipse cx="316.8" cy="224.6" rx="1.15" ry="1.4"/><ellipse cx="317.6" cy="229.4" rx="1.15" ry="1.4"/><ellipse cx="302.0" cy="231.0" rx="1.15" ry="1.4"/><ellipse cx="308.4" cy="232.0" rx="1.15" ry="1.4"/></g>
<rect x="82" y="9" width="313.5" height="309" fill="none" stroke="#989898" stroke-width="1.25"/>
<line x1="81.4" y1="318.3" x2="396.1" y2="318.3" stroke="#6c6c6c" stroke-width="1.1"/>
<g stroke="#555" stroke-width="0.7">
<line x1="80" y1="94" x2="82" y2="94"/><line x1="80" y1="199.3" x2="82" y2="199.3"/><line x1="80" y1="304.5" x2="82" y2="304.5"/>
<line x1="154.5" y1="318" x2="154.5" y2="320.3"/><line x1="234.5" y1="318" x2="234.5" y2="320.3"/><line x1="314.5" y1="318" x2="314.5" y2="320.3"/><line x1="394.7" y1="318" x2="394.7" y2="320.3"/>
</g>
<g font-size="6.5" fill="#666" text-anchor="end">
<text x="78.5" y="96.3">4</text><text x="78.5" y="201.6">2</text><text x="78.5" y="306.8">0</text>
</g>
<g font-size="6.5" fill="#666" text-anchor="middle">
<text x="154.5" y="328">−5</text><text x="234.5" y="328">0</text><text x="314.5" y="328">5</text><text x="394.7" y="328">10</text>
</g>
<text x="225.6" y="338.4" font-size="8" textLength="25.8" lengthAdjust="spacingAndGlyphs" fill="#333">Log2FC</text>
<text transform="translate(72.5,196.7) rotate(-90)" font-size="8.6" textLength="65.7" lengthAdjust="spacingAndGlyphs" fill="#333">−log10(P−value)</text>
<text x="406.4" y="143" font-size="8" textLength="30.6" lengthAdjust="spacingAndGlyphs" fill="#222">regulated</text>
<ellipse cx="412" cy="156" rx="1.15" ry="1.4" fill="#ff1a1a"/><ellipse cx="412" cy="170" rx="1.15" ry="1.4" fill="#00cd2a"/><ellipse cx="412" cy="184.4" rx="1.15" ry="1.4" fill="#2e8cf5"/>
<g font-size="6.3" fill="#222">
<text x="421.4" y="158.5">up</text><text x="421.4" y="172.5">down</text><text x="421.4" y="186.6">false</text>
</g>
<rect x="199.6" y="360" width="240.5" height="14" fill="#ffcb5c"/><rect x="199.6" y="374" width="108.9" height="1" fill="#ffd88a"/><text x="192.6" y="372.8" text-anchor="end" font-size="14" textLength="79.0" lengthAdjust="spacingAndGlyphs" fill="#000" stroke="#000" stroke-width="0.15">Metabolic pathways</text><text x="445.4" y="369.2" font-size="10" textLength="12.4" lengthAdjust="spacingAndGlyphs" fill="#111">930</text><rect x="199.6" y="375" width="108.9" height="14" fill="#ffcb5c"/><rect x="199.6" y="389" width="68.3" height="1" fill="#ffd88a"/><text x="192.6" y="387.8" text-anchor="end" font-size="14" textLength="154.8" lengthAdjust="spacingAndGlyphs" fill="#000" stroke="#000" stroke-width="0.15">Biosynthesis of secondary metabolites</text><text x="313.8" y="385.8" font-size="10" textLength="11.4" lengthAdjust="spacingAndGlyphs" fill="#111">421</text><rect x="199.6" y="390" width="68.3" height="14" fill="#ffcb5c"/><rect x="199.6" y="404" width="43.2" height="1" fill="#ffd88a"/><text x="192.6" y="402.8" text-anchor="end" font-size="14" textLength="183.8" lengthAdjust="spacingAndGlyphs" fill="#000" stroke="#000" stroke-width="0.15">Microbial metabolism in diverse environments</text><text x="273.2" y="400.8" font-size="10" textLength="11.8" lengthAdjust="spacingAndGlyphs" fill="#111">264</text><rect x="199.6" y="405" width="43.2" height="14" fill="#ffcb5c"/><rect x="199.6" y="419" width="38.0" height="1" fill="#ffd88a"/><text x="192.6" y="417.8" text-anchor="end" font-size="14" textLength="78.1" lengthAdjust="spacingAndGlyphs" fill="#000" stroke="#000" stroke-width="0.15">Carbon metabolism</text><text x="248.1" y="415.8" font-size="10" textLength="11.4" lengthAdjust="spacingAndGlyphs" fill="#111">167</text><rect x="199.6" y="420" width="38.0" height="14" fill="#ffcb5c"/><rect x="199.6" y="434" width="37.2" height="1" fill="#ffd88a"/><text x="192.6" y="432.8" text-anchor="end" font-size="14" textLength="112.6" lengthAdjust="spacingAndGlyphs" fill="#000" stroke="#000" stroke-width="0.15">Biosynthesis of amino acids</text><text x="242.9" y="430.8" font-size="10" textLength="11.4" lengthAdjust="spacingAndGlyphs" fill="#111">147</text><rect x="199.6" y="435" width="37.2" height="14" fill="#ffcb5c"/><rect x="199.6" y="449" width="18.9" height="1" fill="#ffd88a"/><text x="192.6" y="447.8" text-anchor="end" font-size="14" textLength="100.9" lengthAdjust="spacingAndGlyphs" fill="#000" stroke="#000" stroke-width="0.15">Biosynthesis of cofactors</text><text x="242.1" y="445.8" font-size="10" textLength="11.6" lengthAdjust="spacingAndGlyphs" fill="#111">144</text><rect x="199.6" y="450" width="18.9" height="15" fill="#ffcb5c"/><text x="192.6" y="462.8" text-anchor="end" font-size="14" textLength="104.4" lengthAdjust="spacingAndGlyphs" fill="#000" stroke="#000" stroke-width="0.15">Oxidative phosphorylation</text><text x="223.8" y="460.8" font-size="10" textLength="6.8" lengthAdjust="spacingAndGlyphs" fill="#111">73</text>
<rect x="491.6" y="365.8" width="1.4" height="93.5" fill="#ffcb5c"/>
<text x="498.1" y="415.8" font-size="15" textLength="45.6" lengthAdjust="spacingAndGlyphs" fill="#222">Metabolism</text>
</svg>
</body></html>
